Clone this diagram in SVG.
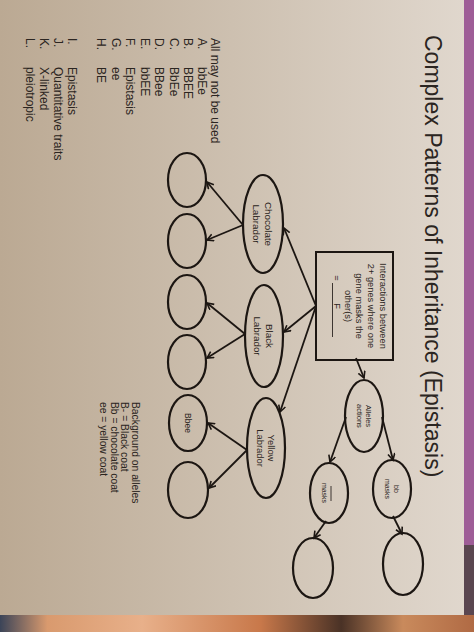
<svg xmlns="http://www.w3.org/2000/svg" width="474" height="632" viewBox="0 0 474 632">
<defs>
<linearGradient id="paper" x1="0" y1="0" x2="1" y2="0">
<stop offset="0" stop-color="#bba993"/>
<stop offset="0.5" stop-color="#cdc0b0"/>
<stop offset="1" stop-color="#e0d7cd"/>
</linearGradient>
<linearGradient id="floor" x1="0" y1="0" x2="1" y2="0">
<stop offset="0" stop-color="#3b4458"/>
<stop offset="0.1" stop-color="#d99a6e"/>
<stop offset="0.3" stop-color="#e8b08a"/>
<stop offset="0.55" stop-color="#c8784a"/>
<stop offset="0.72" stop-color="#4a3226"/>
<stop offset="0.85" stop-color="#c98a5c"/>
<stop offset="1" stop-color="#b06a44"/>
</linearGradient>
<marker id="ah" markerUnits="userSpaceOnUse" markerWidth="10" markerHeight="10" refX="7" refY="4" orient="auto">
<path d="M0.5,0.5 L7,4 L0.5,7.5" fill="none" stroke="#1c1612" stroke-width="1.6"/>
</marker>
</defs>
<style>
.t{font-family:"Liberation Sans",Arial,sans-serif;fill:#2b2521}
.m{text-anchor:middle}
.n{fill:none;stroke:#1c1612;stroke-width:2.2}
.c line{stroke:#1c1612;stroke-width:1.8;marker-end:url(#ah)}
</style>
<rect x="0" y="0" width="474" height="632" fill="url(#floor)"/>
<rect x="463" y="0" width="11" height="545" fill="#9e5d97"/>
<rect x="463" y="545" width="11" height="70" fill="#5a4650"/>
<rect x="0" y="0" width="464" height="615" fill="url(#paper)"/>
<g transform="translate(474,0) rotate(90)">
<text id="title" class="t" x="35" y="49" font-size="23">Complex Patterns of Inheritance (Epistasis)</text>
<g id="box">
<rect x="252" y="81" width="108" height="77" fill="none" stroke="#1c1612" stroke-width="2"/>
<text class="t m" font-size="9.3"><tspan x="306" y="94">Interactions between</tspan><tspan x="306" y="106.5">2+ genes where one</tspan><tspan x="306" y="118.5">gene masks the</tspan><tspan x="306" y="129.5">other(s)</tspan></text>
<text class="t m" x="278" y="140" font-size="9.3">=</text>
<line x1="283" y1="141.5" x2="337" y2="141.5" stroke="#2b2521" stroke-width="0.9"/>
<text class="t m" x="306" y="140" font-size="9.3">F</text>
</g>
<g id="chocolate"><ellipse class="n" cx="224" cy="211" rx="49" ry="20"/><text class="t m" font-size="9.8"><tspan x="224" y="209">Chocolate</tspan><tspan x="224" y="221">Labrador</tspan></text></g>
<g id="black"><ellipse class="n" cx="336" cy="210" rx="51" ry="19"/><text class="t m" font-size="9.8"><tspan x="336" y="208">Black</tspan><tspan x="336" y="220">Labrador</tspan></text></g>
<g id="yellow"><ellipse class="n" cx="448" cy="208" rx="50" ry="19"/><text class="t m" font-size="9.4"><tspan x="448" y="206">Yellow</tspan><tspan x="448" y="217">Labrador</tspan></text></g>
<g id="alleles"><ellipse class="n" cx="416" cy="110" rx="36" ry="19"/><text class="t m" font-size="7.5"><tspan x="416" y="108">Alleles</tspan><tspan x="416" y="117.5">actions</tspan></text></g>
<g id="bbmasks"><ellipse class="n" cx="489" cy="82" rx="29" ry="19"/><text class="t m" font-size="7"><tspan x="489" y="80">bb</tspan><tspan x="489" y="89">masks</tspan></text></g>
<g id="masks"><ellipse class="n" cx="493" cy="145" rx="30" ry="19"/><line x1="486" y1="143" x2="501" y2="143" stroke="#2b2521" stroke-width="0.9"/><text class="t m" x="493" y="152" font-size="7">masks</text></g>
<g id="out1"><ellipse class="n" cx="564" cy="71" rx="31" ry="20"/></g>
<g id="out2"><ellipse class="n" cx="568" cy="161" rx="30" ry="20"/></g>
<g id="c1"><ellipse class="n" cx="180" cy="287" rx="27" ry="19"/></g>
<g id="c2"><ellipse class="n" cx="241" cy="287" rx="27" ry="19"/></g>
<g id="c3"><ellipse class="n" cx="302" cy="287" rx="27" ry="19"/></g>
<g id="c4"><ellipse class="n" cx="362" cy="287" rx="27" ry="19"/></g>
<g id="bbee"><ellipse class="n" cx="423" cy="286" rx="28" ry="19"/><text class="t m" x="423" y="289" font-size="8.5">Bbee</text></g>
<g id="c6"><ellipse class="n" cx="490" cy="286" rx="28" ry="20"/></g>
<g id="connectors" class="c">
<line x1="306" y1="158" x2="228" y2="190"/>
<line x1="306" y1="158" x2="332" y2="190"/>
<line x1="306" y1="158" x2="412" y2="194"/>
<line x1="358" y1="118" x2="378" y2="110"/>
<line x1="225" y1="231" x2="182" y2="267"/>
<line x1="225" y1="231" x2="240" y2="267"/>
<line x1="334" y1="229" x2="303" y2="267"/>
<line x1="334" y1="229" x2="358" y2="267"/>
<line x1="450" y1="227" x2="423" y2="266"/>
<line x1="450" y1="227" x2="488" y2="265"/>
<line x1="417" y1="128" x2="462" y2="144"/>
<line x1="417" y1="92" x2="460" y2="81"/>
<line x1="516" y1="81" x2="534" y2="72"/>
<line x1="521" y1="148" x2="538" y2="160"/>
</g>
<g id="list" class="t" font-size="12">
<text x="38" y="263">All may not be used</text>
<text x="38" y="276">A.</text><text x="67" y="276">bbEe</text>
<text x="38" y="290">B.</text><text x="67" y="290">BBEE</text>
<text x="38" y="304.5">C.</text><text x="67" y="304.5">BbEe</text>
<text x="38" y="319">D.</text><text x="67" y="319">BBee</text>
<text x="38" y="333.5">E.</text><text x="67" y="333.5">bbEE</text>
<text x="38" y="348">F.</text><text x="67" y="348">Epistasis</text>
<text x="38" y="362.5">G.</text><text x="67" y="362.5">ee</text>
<text x="38" y="377">H.</text><text x="67" y="377">BE</text>
<text x="38" y="406">I.</text><text x="67" y="406">Epistasis</text>
<text x="38" y="420">J.</text><text x="67" y="420">Quantitative traits</text>
<text x="38" y="434">K.</text><text x="67" y="434">X-linked</text>
<text x="38" y="448">L.</text><text x="67" y="448">pleiotropic</text>
</g>
<g id="background" class="t" font-size="10.3">
<text x="402" y="342">Background on alleles</text>
<text x="402" y="353">B- = Black coat</text>
<text x="402" y="363.5">Bb = chocolate coat</text>
<text x="402" y="374">ee = yellow coat</text>
</g>
</g>
</svg>
